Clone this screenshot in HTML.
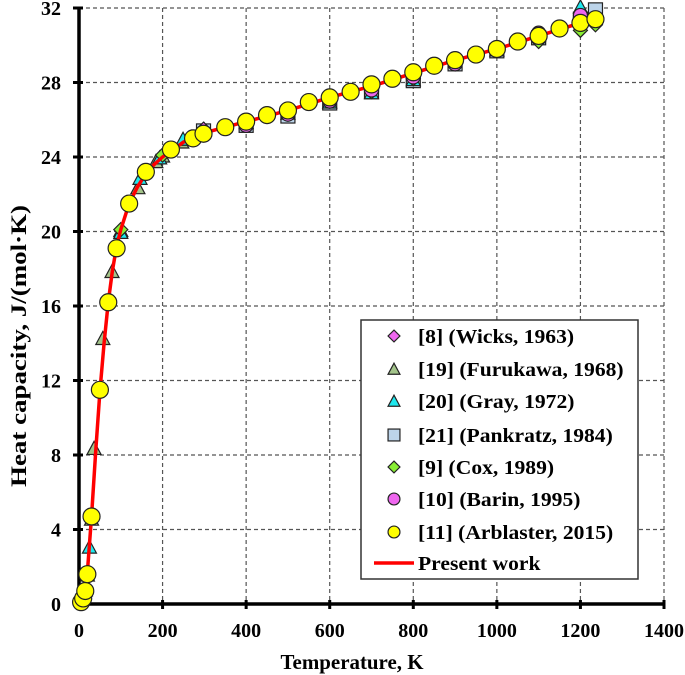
<!DOCTYPE html>
<html><head><meta charset="utf-8"><style>
html,body{margin:0;padding:0;background:#fff;}
svg{display:block;font-family:"Liberation Serif",serif;font-weight:bold;}
</style></head><body>
<svg id="chart" width="685" height="675" xmlns="http://www.w3.org/2000/svg">
<g id="grid"></g><g id="axes"></g><g id="marks"></g><g id="legend"></g>
<text x="26" y="346" transform="rotate(-90 26 346)" text-anchor="middle" font-size="22" textLength="282" lengthAdjust="spacingAndGlyphs">Heat capacity, J/(mol·K)</text>
<text x="352" y="669" text-anchor="middle" font-size="21" textLength="143" lengthAdjust="spacingAndGlyphs">Temperature, K</text>
</svg>
<script>
const xTicks=[0,200,400,600,800,1000,1200,1400];
const yTicks=[0,4,8,12,16,20,24,28,32];
const lineT=[0,5,10,15,20,30,40,50,60,70,80,90,100,120,140,160,180,200,250,300,400,500,600,700,800,900,1000,1100,1200,1236];
const lineV=[0,0.1,0.3,0.8,1.7,4.7,8.2,11.4,14.0,16.2,17.9,19.2,20.1,21.5,22.4,23.1,23.6,24.0,24.8,25.3,25.9,26.5,27.2,27.8,28.5,29.2,29.8,30.5,31.2,31.4];
const wicksT=[298,400,500,600,700,800,900,1000,1200];
const wicksV=[25.5,25.7,26.3,27.0,27.6,28.2,29.0,29.8,31.5];
const furuT=[15,20,30,36,57,79,100,141,184,200,246,270,298];
const furuV=[0.7,1.5,4.5,8.3,14.2,17.8,20.0,22.3,23.7,24.0,24.75,25.0,25.3];
const grayT=[25,100,146,193,249,300,400,500,600,700,800,1000,1200];
const grayV=[3.0,19.9,22.8,23.9,24.9,25.4,25.8,26.3,26.9,27.4,28.1,29.7,32.0];
const pankT=[298,400,500,600,700,800,900,1000,1100,1200,1236];
const pankV=[25.4,25.7,26.2,26.9,27.5,28.1,29.0,29.7,30.4,31.4,31.9];
const coxT=[100,200,298,400,500,600,700,800,900,1000,1100,1200,1236];
const coxV=[20.1,24.1,25.3,25.8,26.3,27.0,27.5,28.2,29.0,29.7,30.2,30.8,31.1];
const barinT=[298,400,500,600,700,800,900,1000,1100,1200];
const barinV=[25.3,25.7,26.3,27.0,27.6,28.3,29.0,29.85,30.65,31.6];
const arbT=[5,10,15,20,30,50,70,90,120,160,220,273,298,350,400,450,500,550,600,650,700,750,800,850,900,950,1000,1050,1100,1150,1200,1236];
const arbV=[0.1,0.3,0.7,1.6,4.7,11.5,16.2,19.1,21.5,23.2,24.4,25.0,25.25,25.6,25.9,26.25,26.5,26.95,27.2,27.5,27.9,28.2,28.55,28.9,29.2,29.5,29.8,30.2,30.5,30.9,31.2,31.4];
const legendLabels=["[8] (Wicks, 1963)","[19] (Furukawa, 1968)","[20] (Gray, 1972)","[21] (Pankratz, 1984)","[9] (Cox, 1989)","[10] (Barin, 1995)","[11] (Arblaster, 2015)","Present work"];

const NS="http://www.w3.org/2000/svg";
const X0=79,X1=664,Y0=604,Y1=8;
const sx=t=>X0+(t-0)/1400*(X1-X0);
const sy=v=>Y0-(v-0)/32*(Y0-Y1);
function mk(tag,attrs,parent){const e=document.createElementNS(NS,tag);for(const k in attrs)e.setAttribute(k,attrs[k]);parent.appendChild(e);return e;}
const grid=document.getElementById('grid'),axes=document.getElementById('axes'),marks=document.getElementById('marks'),leg=document.getElementById('legend');
xTicks.forEach(t=>{if(t>0){const l=mk('line',{x1:sx(t),x2:sx(t),y1:Y1,y2:Y0,stroke:'#555','stroke-width':1.2,'stroke-dasharray':'4,3'},grid);

}
const tk=mk('line',{x1:sx(t),x2:sx(t),y1:Y0-4,y2:Y0+5,stroke:'#000','stroke-width':3},axes);


const tx=mk('text',{x:sx(t),y:Y0+33,'text-anchor':'middle','font-size':20},axes);tx.textContent=t;

});
yTicks.forEach(v=>{if(v>0){const l=mk('line',{x1:X0,x2:X1,y1:sy(v),y2:sy(v),stroke:'#555','stroke-width':1.2,'stroke-dasharray':'4,3'},grid);

}
const tk=mk('line',{x1:X0-6,x2:X0+4,y1:sy(v),y2:sy(v),stroke:'#000','stroke-width':3},axes);


const tx=mk('text',{x:61,y:sy(v)+7,'text-anchor':'end','font-size':20},axes);tx.textContent=v;

});
const ya=mk('line',{x1:X0,x2:X0,y1:Y1,y2:Y0+1.5,stroke:'#000','stroke-width':3.5},axes);


const xa=mk('line',{x1:X0-1.5,x2:X1,y1:Y0,y2:Y0,stroke:'#000','stroke-width':3.5},axes);



function marker(type,x,y,fill,p,s){s=s||1;let e;
if(type==='diamond')e=mk('polygon',{points:`${x},${y-7*s} ${x+7*s},${y} ${x},${y+7*s} ${x-7*s},${y}`},p);
else if(type==='tri')e=mk('polygon',{points:`${x},${y-8*s} ${x+7*s},${y+5*s} ${x-7*s},${y+5*s}`},p);
else if(type==='square')e=mk('rect',{x:x-7*s,y:y-7*s,width:14*s,height:14*s},p);
else e=mk('circle',{cx:x,cy:y,r:(type==='bigcircle'?8.5:7)*s},p);
e.setAttribute('fill',fill);e.setAttribute('stroke','#222');e.setAttribute('stroke-width',1.2);return e;}
const series=[
['pankratz',pankT,pankV,'square','#bcd4ea'],
['furukawa',furuT,furuV,'tri','#a3c48a'],
['gray',grayT,grayV,'tri','#1ee8ee'],
['wicks',wicksT,wicksV,'diamond','#ee66ee'],
['cox',coxT,coxV,'diamond','#88ee33'],
['barin',barinT,barinV,'circle','#ee66ee'],
];
series.forEach(s=>{s[1].forEach((t,i)=>{const m=marker(s[3],sx(t),sy(s[2][i]),s[4],marks);

});});
const pl=mk('polyline',{points:lineT.map((t,i)=>sx(t)+','+sy(lineV[i])).join(' '),fill:'none',stroke:'#ff0000','stroke-width':3.5,'stroke-linejoin':'round'},marks);


arbT.forEach((t,i)=>{const m=marker('bigcircle',sx(t),sy(arbV[i]),'#ffff00',marks);

});

const box=mk('rect',{x:361,y:320,width:277,height:259,fill:'#fff',stroke:'#333','stroke-width':1.5},leg);


const lm=[['diamond','#ee66ee'],['tri','#a3c48a'],['tri','#1ee8ee'],['square','#bcd4ea'],['diamond','#88ee33'],['circle','#ee66ee'],['circle','#ffff00']];
const rowY=[336,369,401,435,467,499,532,563];
legendLabels.forEach((lab,i)=>{const g=mk('g',{},leg);


if(i<7){marker(lm[i][0],394,rowY[i]+(lm[i][0]==='tri'?1:0),lm[i][1],g,0.85);}
else{mk('line',{x1:374,x2:414,y1:rowY[i],y2:rowY[i],stroke:'#ff0000','stroke-width':3.5},g);}
const tx=mk('text',{x:0,y:0,'font-size':20,transform:`translate(418 ${rowY[i]+7}) scale(1.08 1)`},g);tx.textContent=lab;});
</script>
</body></html>
